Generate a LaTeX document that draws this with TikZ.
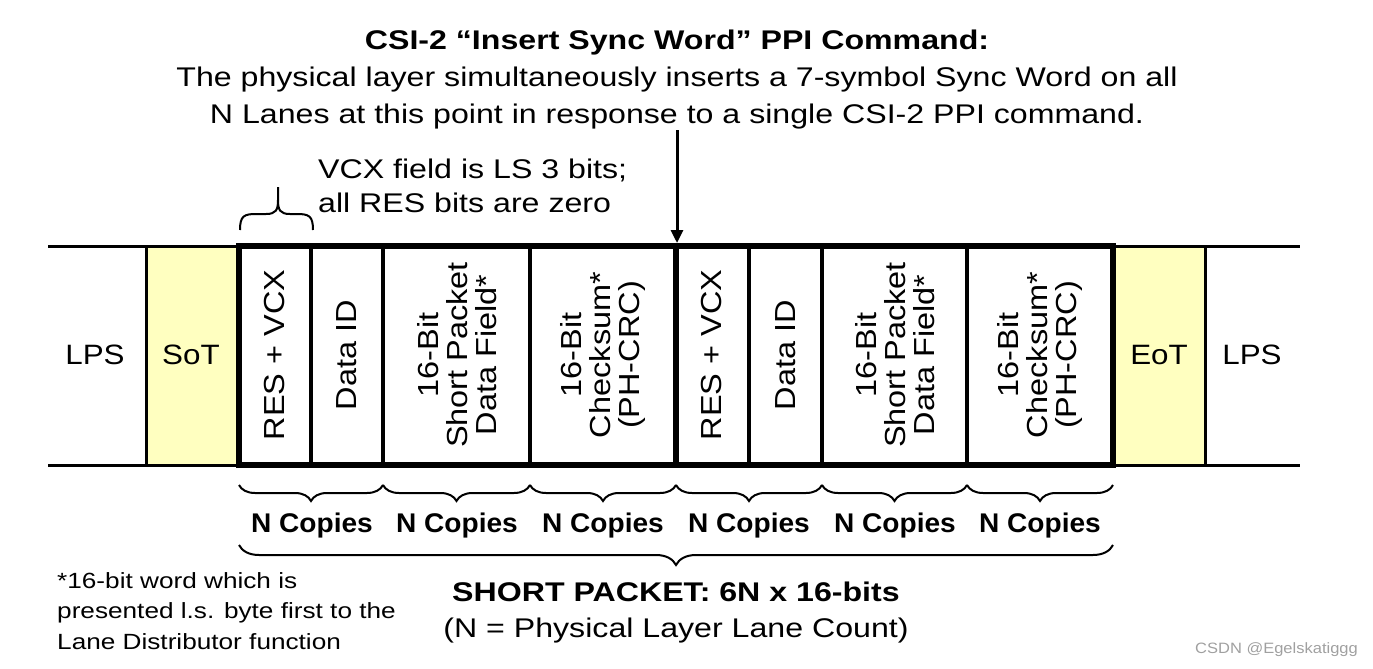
\documentclass[tikz,border=0pt]{standalone}
\usepackage{fontspec}
\setmainfont[FakeStretch=1.19]{Liberation Sans}
\newfontfamily\cellfont[FakeStretch=1.12]{Liberation Sans}
\newfontfamily\copyfont[FakeStretch=1.04]{Liberation Sans}
\newfontfamily\wmfont[FakeStretch=1.1]{Liberation Sans}
\usetikzlibrary{arrows.meta,decorations.pathreplacing}
\definecolor{sotyellow}{HTML}{FFFFC0}
\definecolor{wmgray}{HTML}{A0A0A0}
\begin{document}
\begin{tikzpicture}[x=1pt,y=-1pt,
  thinline/.style={line width=3pt},
  divline/.style={line width=4pt},
  thickline/.style={line width=6pt},
  lbl/.style={inner sep=0pt,font=\cellfont\fontsize{28}{30}\selectfont},
  vlbl/.style={inner sep=0pt,rotate=90,align=center,font=\cellfont\fontsize{29}{29}\selectfont},
  copies/.style={inner sep=0pt,font=\copyfont\bfseries\fontsize{27}{30}\selectfont},
  smallbrace/.style={decorate,decoration={brace,amplitude=16pt,mirror},line width=2pt},
  bigbrace/.style={decorate,decoration={brace,amplitude=20pt,mirror},line width=2pt},
  arrowline/.style={line width=3pt,-{Triangle[length=13pt,width=12pt]}}]
\useasboundingbox (0,0) rectangle (1373,669);

% fills
\fill[sotyellow] (146,246) rectangle (239,465);
\fill[sotyellow] (1113,246) rectangle (1205,465);

% thin outer lines
\draw[thinline] (48,246) -- (239,246);
\draw[thinline] (48,465) -- (239,465);
\draw[thinline] (1113,246) -- (1300,246);
\draw[thinline] (1113,465) -- (1300,465);
\draw[thinline] (146,246) -- (146,465);
\draw[thinline] (1205,246) -- (1205,465);

% dividers
\foreach \x in {311,383,530,749,822,967}
  \draw[divline] (\x,246) -- (\x,465);

% thick box
\draw[thickline] (239,246) rectangle (1113,465);
\draw[thickline] (676,246) -- (676,465);

% cell labels
\node[lbl] (lps1) at (95,355) {LPS};
\node[lbl] (sot) at (191,355) {SoT};
\node[vlbl] (c1) at (275,355) {RES + VCX};
\node[vlbl] (c2) at (347,355) {Data ID};
\node[vlbl] (c3) at (457,355) {16-Bit\\Short Packet\\Data Field*};
\node[vlbl] (c4) at (603,355) {16-Bit\\Checksum*\\(PH-CRC)};
\node[vlbl] (c5) at (712,355) {RES + VCX};
\node[vlbl] (c6) at (786,355) {Data ID};
\node[vlbl] (c7) at (895,355) {16-Bit\\Short Packet\\Data Field*};
\node[vlbl] (c8) at (1040,355) {16-Bit\\Checksum*\\(PH-CRC)};
\node[lbl] (eot) at (1159,355) {EoT};
\node[lbl] (lps2) at (1252,355) {LPS};

% title and description
\node[inner sep=0pt,font=\bfseries\fontsize{27}{30}\selectfont] (title) at (677,43) {CSI-2 “Insert Sync Word” PPI Command:};
\node[inner sep=0pt,align=center,font=\fontsize{27}{37}\selectfont] (desc) at (677,98) {The physical layer simultaneously inserts a 7-symbol Sync Word on all\\N Lanes at this point in response to a single CSI-2 PPI command.};
\coordinate (astart) at (677,130);
\coordinate (aend) at (677,243);
\draw[arrowline] (astart) -- (aend);

% VCX note
\node[inner sep=0pt,anchor=west,align=left,font=\fontsize{27}{34}\selectfont] (vcx) at (318,186) {VCX field is LS 3 bits;\\all RES bits are zero};
\draw[line width=2pt] (240,230) .. controls (240,216) and (244,214) .. (256,214) -- (266,214) .. controls (276,214) and (278,210) .. (278,200) -- (278,187);
\draw[line width=2pt] (313,230) .. controls (313,216) and (309,214) .. (297,214) -- (290,214) .. controls (280,214) and (278,210) .. (278,200);

% small braces
\coordinate (b0) at (239,485);
\coordinate (b1) at (383,485);
\coordinate (b2) at (530,485);
\coordinate (b3) at (676,485);
\coordinate (b4) at (822,485);
\coordinate (b5) at (967,485);
\coordinate (b6) at (1113,485);
\draw[smallbrace] (b0) -- (b1);
\draw[smallbrace] (b1) -- (b2);
\draw[smallbrace] (b2) -- (b3);
\draw[smallbrace] (b3) -- (b4);
\draw[smallbrace] (b4) -- (b5);
\draw[smallbrace] (b5) -- (b6);
\node[copies] (n1) at (312,526) {N Copies};
\node[copies] (n2) at (457,526) {N Copies};
\node[copies] (n3) at (603,526) {N Copies};
\node[copies] (n4) at (749,526) {N Copies};
\node[copies] (n5) at (895,526) {N Copies};
\node[copies] (n6) at (1040,526) {N Copies};

% big brace
\coordinate (bb0) at (239,545);
\coordinate (bb1) at (1113,545);
\draw[bigbrace] (bb0) -- (bb1);
\node[inner sep=0pt,font=\bfseries\fontsize{27}{30}\selectfont] (sp) at (676,592) {SHORT PACKET: 6N x 16-bits};
\node[inner sep=0pt,font=\fontsize{27}{30}\selectfont] (nl) at (676,631) {(N = Physical Layer Lane Count)};

% footnote
\node[inner sep=0pt,anchor=west,align=left,font=\fontsize{22}{30.5}\selectfont] (foot) at (57,611) {*16-bit word which is\\presented l.s. byte first to the\\Lane Distributor function};

% watermark
\node[inner sep=0pt,anchor=east,text=wmgray,font=\wmfont\fontsize{15}{18}\selectfont] (wm) at (1358,650) {CSDN @Egelskatiggg};
\end{tikzpicture}
\end{document}
